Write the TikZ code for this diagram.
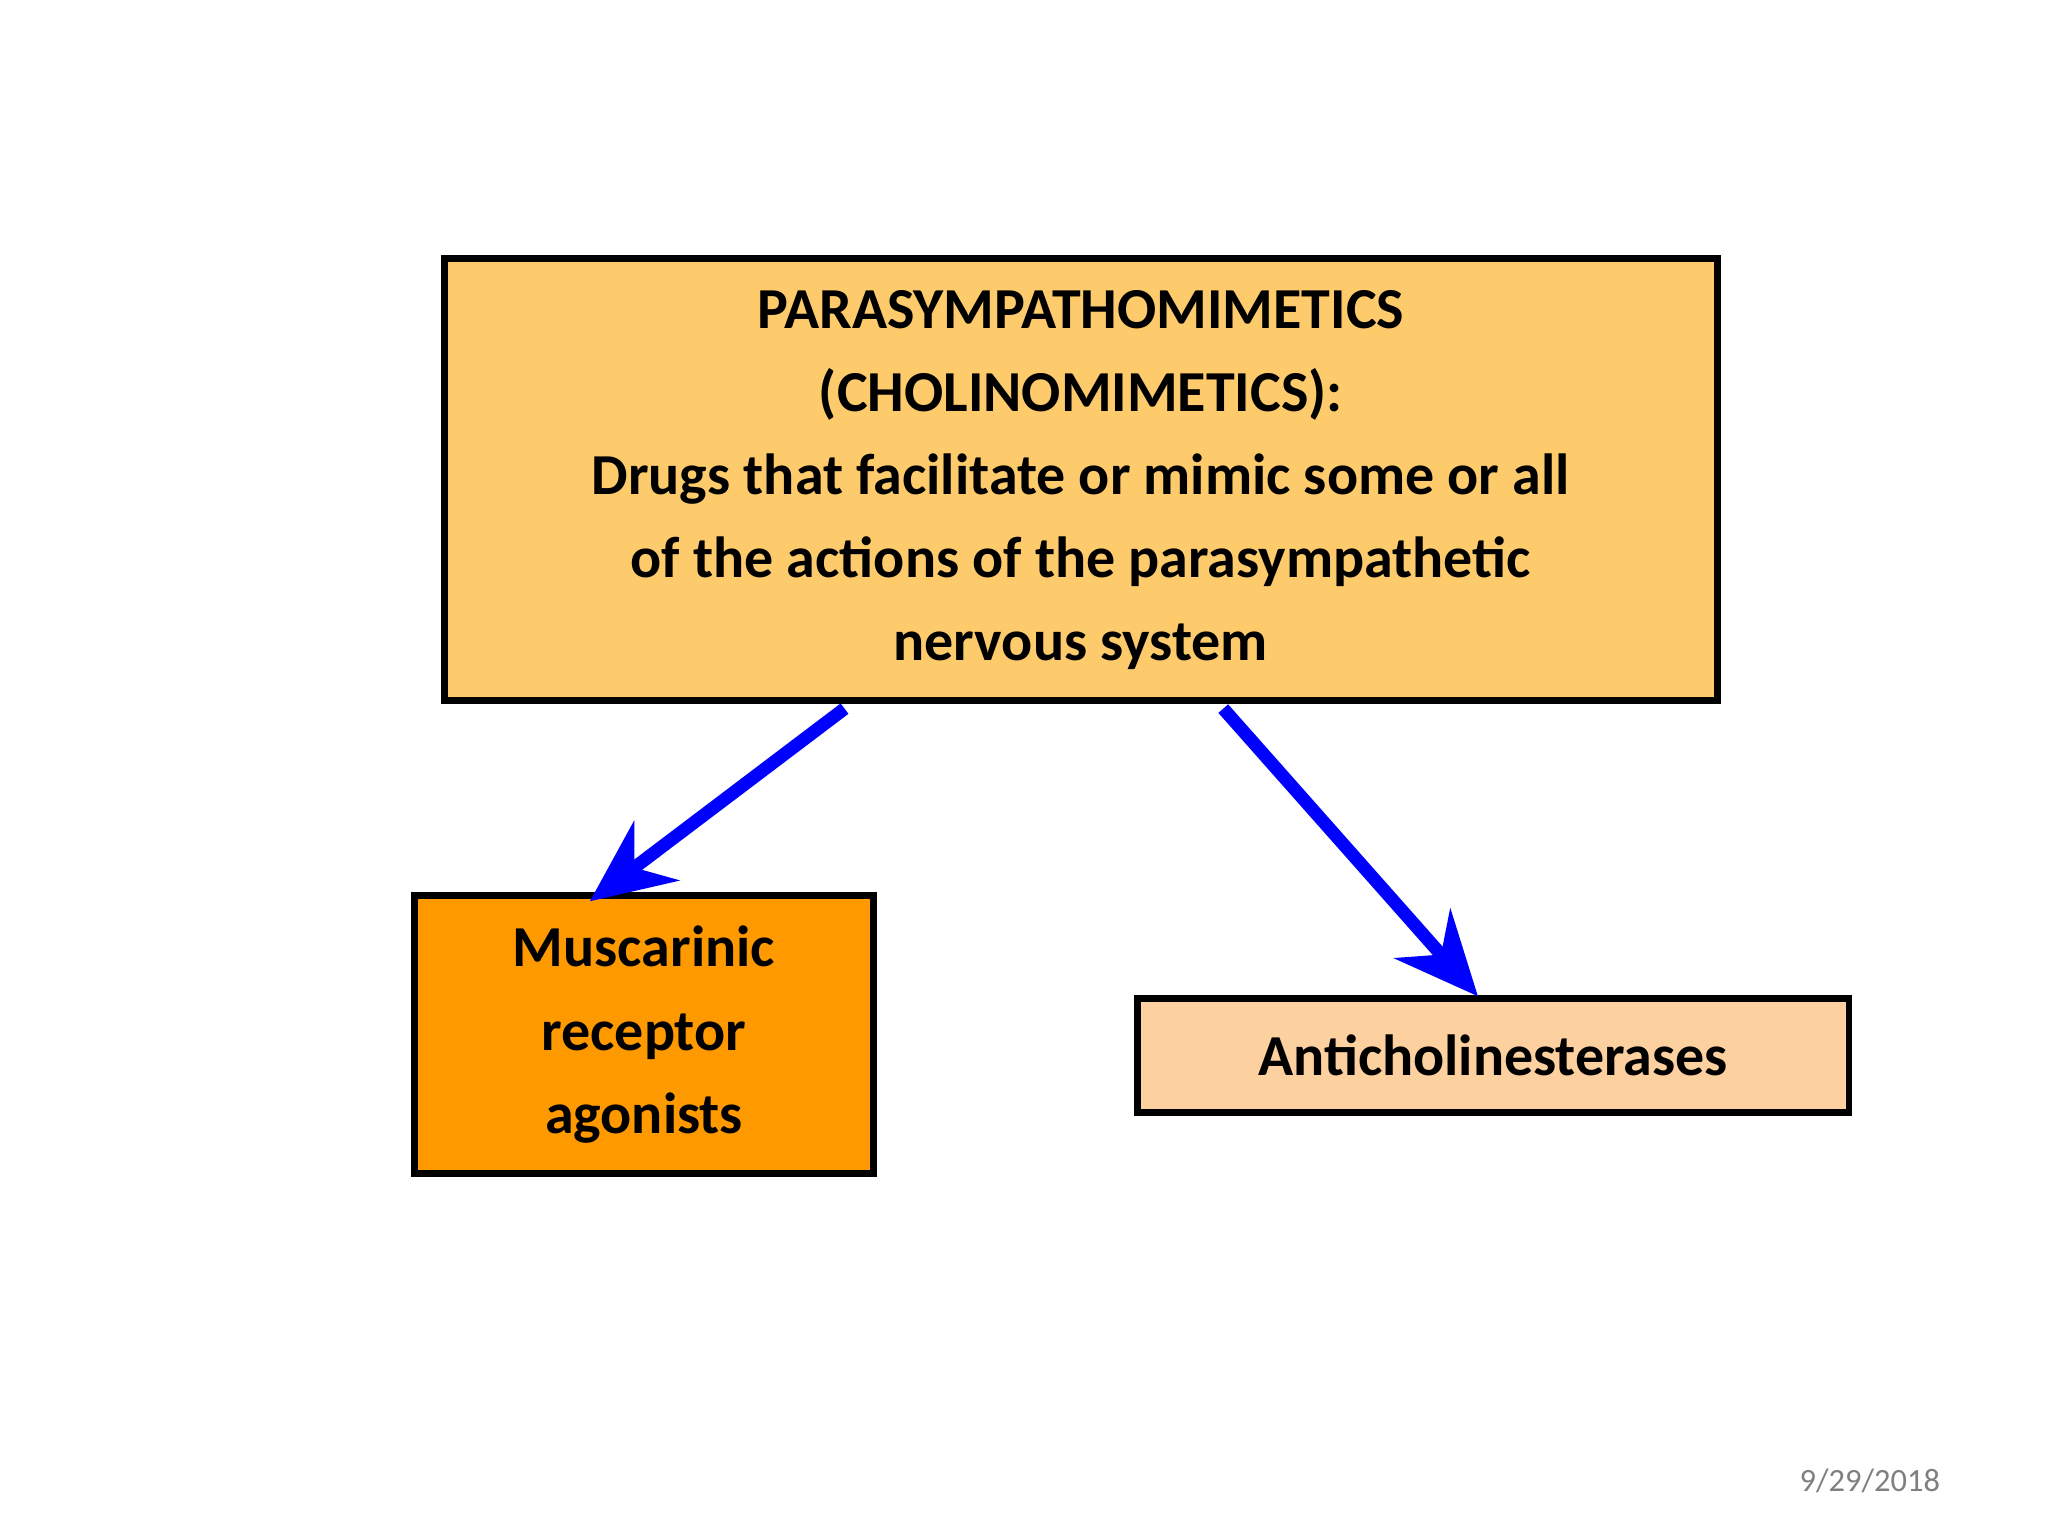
\documentclass[tikz,border=0pt]{standalone}
\usepackage{fontspec}
\setmainfont{Carlito}
\usetikzlibrary{arrows.meta}
\definecolor{topfill}{HTML}{FDCB6B}
\definecolor{muscfill}{HTML}{FF9900}
\definecolor{antifill}{HTML}{FDD09F}
\tikzset{
  box/.style={draw=black,line width=1.5pt,align=center,font=\bfseries\fontsize{12.5}{17.9}\selectfont,inner sep=0pt},
  arr/.style={draw=blue,line width=2.8pt,-{Stealth[length=18pt,width=16pt,inset=6pt]}}
}
\begin{document}
\begin{tikzpicture}[x=0.01cm,y=-0.01cm]
\useasboundingbox[fill=white] (0,0) rectangle (1552,1164);
\node[box,fill=topfill,minimum width=9.64cm,minimum height=3.35cm] (top) at (819,363.5)
  {PARASYMPATHOMIMETICS\\(CHOLINOMIMETICS):\\Drugs that facilitate or mimic some or all\\of the actions of the parasympathetic\\nervous system};
\node[box,fill=muscfill,minimum width=3.48cm,minimum height=2.1cm] (musc) at (488,784)
  {Muscarinic\\receptor\\agonists};
\node[box,fill=antifill,minimum width=5.39cm,minimum height=0.86cm] (anti) at (1131.5,800)
  {Anticholinesterases};
\coordinate (a1) at (640,537);
\coordinate (b1) at (447,683);
\coordinate (a2) at (927,537);
\coordinate (b2) at (1120,755);
\draw[arr] (a1) -- (b1);
\draw[arr] (a2) -- (b2);
\node[text=gray,font=\fontsize{7}{8}\selectfont] (date) at (1417,1122) {9/29/2018};
\end{tikzpicture}
\end{document}
